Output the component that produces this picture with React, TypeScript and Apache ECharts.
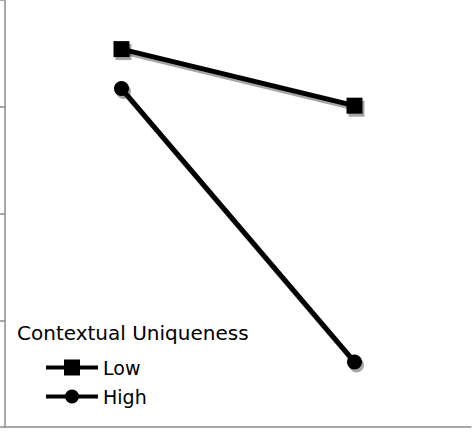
import * as echarts from 'echarts';
import { useEffect, useRef } from 'react';

const categories = ['Condition A', 'Condition B'];
const lowValues = [3.54, 3.01];
const highValues = [3.17, 0.61];
const legendTitle = 'Contextual Uniqueness';

const FONT = '"DejaVu Sans", Verdana, sans-serif';
const AXIS_COLOR = '#8c8c8c';

// legend icons: thick line with the marker in the middle
const LOW_ICON = 'path://M0,6 L18,6 L18,0 L34,0 L34,6 L52,6 L52,10 L34,10 L34,16 L18,16 L18,10 L0,10 Z';
const HIGH_ICON =
  'path://M0,6 L20,6 L20,10 L0,10 Z M32,6 L52,6 L52,10 L32,10 Z M19,8 A7,7 0 1 1 33,8 A7,7 0 1 1 19,8 Z';

export default function App() {
  const chartRef = useRef<HTMLDivElement>(null);

  useEffect(() => {
    if (!chartRef.current) return;
    const chart = echarts.init(chartRef.current, undefined, { renderer: 'svg' });

    const shadow = {
      shadowColor: 'rgba(0,0,0,0.35)',
      shadowBlur: 1,
      shadowOffsetX: 2,
      shadowOffsetY: 3,
    };

    chart.setOption({
      animation: false,
      backgroundColor: '#ffffff',
      title: {
        text: legendTitle,
        left: 12,
        top: 318,
        textStyle: { fontFamily: FONT, fontSize: 20, fontWeight: 'normal', color: '#000' },
      },
      legend: {
        orient: 'vertical',
        left: 41,
        top: 353,
        itemWidth: 52,
        itemHeight: 16,
        itemGap: 10,
        textStyle: { fontFamily: FONT, fontSize: 19, color: '#000' },
        itemStyle: { shadowBlur: 0, shadowOffsetX: 0, shadowOffsetY: 0, shadowColor: 'transparent' },
        data: [
          { name: 'Low', icon: LOW_ICON },
          { name: 'High', icon: HIGH_ICON },
        ],
      },
      grid: { left: 5, right: 3, top: 0, bottom: 7 },
      xAxis: {
        type: 'category',
        data: categories,
        boundaryGap: true,
        axisLine: { lineStyle: { color: AXIS_COLOR, width: 1.5 } },
        axisTick: { length: 7, lineStyle: { color: AXIS_COLOR, width: 1.5 } },
        axisLabel: { show: false },
      },
      yAxis: {
        type: 'value',
        min: 0,
        max: 4,
        interval: 1,
        axisLine: { show: true, lineStyle: { color: AXIS_COLOR, width: 1.5 } },
        axisTick: { show: true, length: 5, lineStyle: { color: AXIS_COLOR, width: 1.5 } },
        axisLabel: { show: false },
        splitLine: { show: false },
      },
      series: [
        {
          name: 'Low',
          type: 'line',
          data: lowValues,
          symbol: 'rect',
          symbolSize: 16,
          lineStyle: { color: '#000', width: 5, ...shadow },
          itemStyle: { color: '#000', ...shadow },
        },
        {
          name: 'High',
          type: 'line',
          data: highValues,
          symbol: 'circle',
          symbolSize: 15,
          lineStyle: { color: '#000', width: 5, ...shadow },
          itemStyle: { color: '#000', ...shadow },
        },
      ],
    });

    return () => chart.dispose();
  }, []);

  return (
    <div
      ref={chartRef}
      style={{ position: 'fixed', left: 0, top: 0, width: 474, height: 434 }}
    />
  );
}
